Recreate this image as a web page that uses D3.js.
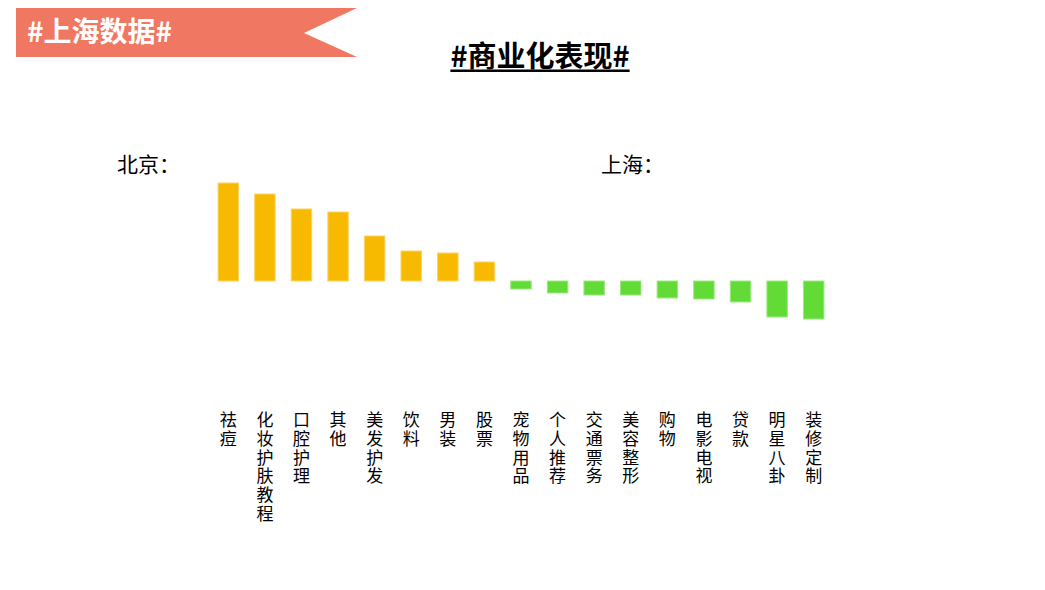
<!DOCTYPE html>
<html>
<head>
<meta charset="utf-8">
<script src="https://cdn.jsdelivr.net/npm/d3@7"></script>
<style>
  body { margin: 0; background: #fff; }
  svg { display: block; font-family: "Noto Sans CJK SC", sans-serif; }
</style>
</head>
<body>
<div id="chart"></div>
<script>
(function () {
    // 数据
    const bjCategories = ["祛痘", "化妆护肤教程", "口腔护理", "其他", "美发护发", "饮料", "男装", "股票"];
    const bjValues = [98, 87, 72, 69, 45, 30, 28, 19];
    const shCategories = ["宠物用品", "个人推荐", "交通票务", "美容整形", "购物", "电影电视", "贷款", "明星八卦", "装修定制"];
    const shValues = [-8, -12, -14, -14, -17, -18, -21, -36, -38];

    const data = bjCategories.map((c, i) => ({ category: c, value: bjValues[i], city: "bj" }))
        .concat(shCategories.map((c, i) => ({ category: c, value: shValues[i], city: "sh" })));

    const width = 1045, height = 590;
    const svg = d3.select("#chart").append("svg")
        .attr("width", width)
        .attr("height", height);

    // 左上角标签
    svg.append("rect")
        .attr("x", 16).attr("y", 8)
        .attr("width", 276).attr("height", 49)
        .attr("fill", "#f07762");
    svg.append("polygon")
        .attr("points", "290,8 357,8 304,33 357,57 290,57")
        .attr("fill", "#f07762");
    svg.append("text")
        .attr("x", 27).attr("y", 42)
        .attr("fill", "#fff")
        .style("font-size", "28px")
        .style("font-weight", "bold")
        .text("#上海数据#");

    // 标题
    const title = svg.append("text")
        .attr("x", 540).attr("y", 67)
        .attr("text-anchor", "middle")
        .attr("fill", "#000")
        .style("font-size", "29px")
        .style("font-weight", "bold")
        .text("#商业化表现#");
    const tb = title.node().getBBox();
    svg.append("rect")
        .attr("x", tb.x).attr("y", 69.5)
        .attr("width", tb.width).attr("height", 2.5)
        .attr("fill", "#000");

    svg.append("text").attr("x", 117).attr("y", 172)
        .style("font-size", "21px").text("北京：");
    svg.append("text").attr("x", 601).attr("y", 172)
        .style("font-size", "21px").text("上海：");

    // 比例尺
    const x = d3.scaleBand()
        .domain(data.map(d => d.category))
        .range([210, 832])
        .paddingInner(0.44)
        .paddingOuter(0.22);

    const y = d3.scaleLinear()
        .domain([-40, 100])
        .range([321, 181]);

    const color = d => d.city === "bj" ? "#f8ba00" : "#63db37";
    const edge = d => d.city === "bj" ? "#fcd466" : "#9be983";

    svg.selectAll(".bar")
        .data(data)
        .enter().append("rect")
        .attr("class", "bar")
        .attr("x", d => x(d.category))
        .attr("y", d => y(Math.max(0, d.value)))
        .attr("width", x.bandwidth())
        .attr("height", d => Math.abs(y(d.value) - y(0)))
        .attr("fill", color)
        .attr("stroke", edge)
        .attr("stroke-width", 1);

    // 竖排类别标签（逐字）
    const step = 18.8;
    const labels = svg.selectAll(".cat")
        .data(data)
        .enter().append("g")
        .attr("class", "cat")
        .attr("transform", d => `translate(${x(d.category) + x.bandwidth() / 2}, 426)`);

    labels.selectAll("text")
        .data(d => d.category.split(""))
        .enter().append("text")
        .attr("x", 0)
        .attr("y", (ch, i) => i * step)
        .attr("text-anchor", "middle")
        .style("font-size", "17px")
        .attr("fill", "#000")
        .text(ch => ch);
})();
</script>
</body>
</html>
